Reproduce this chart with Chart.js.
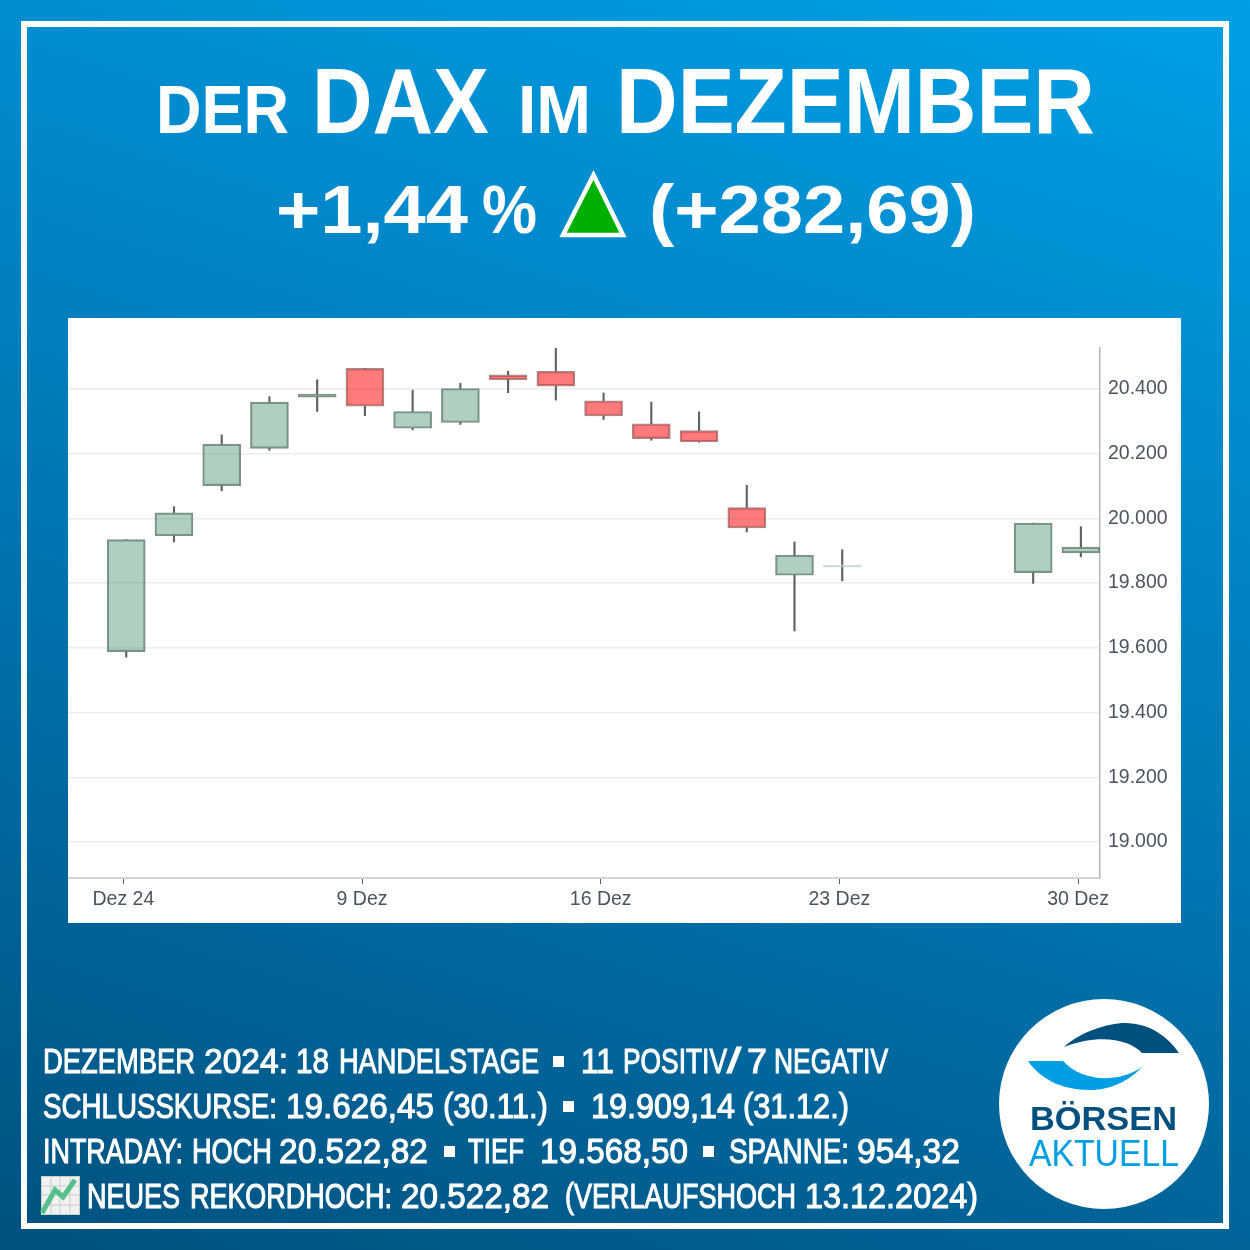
<!DOCTYPE html>
<html lang="de">
<head>
<meta charset="utf-8">
<title>Der DAX im Dezember</title>
<script src="https://cdn.jsdelivr.net/npm/chart.js@4"></script>
<style>
  html, body { margin: 0; padding: 0; }
  body { width: 1250px; height: 1250px; position: relative; overflow: hidden;
         background: linear-gradient(197deg, #00a0e6 0%, #0082c4 38%, #00527f 100%); }
  #frame { position: absolute; left: 21px; top: 21px; width: 1196px; height: 1196px; border: 6px solid #fff; }
  #paper { position: absolute; left: 68px; top: 318px; width: 1113px; height: 605px; background: #fff; }
  #art { position: absolute; left: 0; top: 0; }
  canvas { display: block; }
  .head { font-family: "Liberation Sans", Arial, sans-serif; font-weight: 700; fill: #fff; }
  .foot { font-family: "Liberation Sans Narrow", "Liberation Sans", Arial, sans-serif; font-size: 35px; fill: #fff; stroke: #fff; stroke-width: 1.1px; }
</style>
</head>
<body>
<div id="frame"></div>
<div id="paper"><canvas id="dax" width="1113" height="605"></canvas></div>

<svg id="art" width="1250" height="1250" xmlns="http://www.w3.org/2000/svg">
  <!-- title -->
  <text class="head" x="156" y="133" font-size="68" textLength="133" lengthAdjust="spacingAndGlyphs">DER</text>
  <text class="head" x="312" y="133" font-size="93" textLength="177" lengthAdjust="spacingAndGlyphs">DAX</text>
  <text class="head" x="518" y="133" font-size="68" textLength="73" lengthAdjust="spacingAndGlyphs">IM</text>
  <text class="head" x="616" y="133" font-size="93" textLength="479" lengthAdjust="spacingAndGlyphs">DEZEMBER</text>

  <text class="head" x="276" y="233" font-size="69" textLength="192" lengthAdjust="spacingAndGlyphs">+1,44</text>
  <text class="head" x="482" y="233" font-size="69" textLength="55" lengthAdjust="spacingAndGlyphs">%</text>
  <polygon points="593.5,175 623,235 563,235" fill="#00b000" stroke="#fff" stroke-width="4.5"/>
  <text class="head" x="649" y="233" font-size="69" textLength="327" lengthAdjust="spacingAndGlyphs">(+282,69)</text>

  <!-- facts -->
  <g class="foot">
    <text x="43" y="1073" textLength="152" lengthAdjust="spacingAndGlyphs">DEZEMBER</text>
    <text x="204" y="1073" textLength="84" lengthAdjust="spacingAndGlyphs">2024:</text>
    <text x="296" y="1073" textLength="33" lengthAdjust="spacingAndGlyphs">18</text>
    <text x="339" y="1073" textLength="200" lengthAdjust="spacingAndGlyphs">HANDELSTAGE</text>
    <text x="581" y="1073" textLength="33" lengthAdjust="spacingAndGlyphs">11</text>
    <text x="623" y="1073" textLength="104" lengthAdjust="spacingAndGlyphs">POSITIV</text>
    <text x="727" y="1073" textLength="14" lengthAdjust="spacingAndGlyphs">/</text>
    <text x="747" y="1073" textLength="20" lengthAdjust="spacingAndGlyphs">7</text>
    <text x="774" y="1073" textLength="114" lengthAdjust="spacingAndGlyphs">NEGATIV</text>

    <text x="43" y="1118" textLength="234" lengthAdjust="spacingAndGlyphs">SCHLUSSKURSE:</text>
    <text x="286" y="1118" textLength="148" lengthAdjust="spacingAndGlyphs">19.626,45</text>
    <text x="443" y="1118" textLength="105" lengthAdjust="spacingAndGlyphs">(30.11.)</text>
    <text x="591" y="1118" textLength="144" lengthAdjust="spacingAndGlyphs">19.909,14</text>
    <text x="743" y="1118" textLength="106" lengthAdjust="spacingAndGlyphs">(31.12.)</text>

    <text x="43" y="1163" textLength="140" lengthAdjust="spacingAndGlyphs">INTRADAY:</text>
    <text x="192" y="1163" textLength="80" lengthAdjust="spacingAndGlyphs">HOCH</text>
    <text x="279" y="1163" textLength="149" lengthAdjust="spacingAndGlyphs">20.522,82</text>
    <text x="468" y="1163" textLength="56" lengthAdjust="spacingAndGlyphs">TIEF</text>
    <text x="540" y="1163" textLength="148" lengthAdjust="spacingAndGlyphs">19.568,50</text>
    <text x="729" y="1163" textLength="120" lengthAdjust="spacingAndGlyphs">SPANNE:</text>
    <text x="857" y="1163" textLength="103" lengthAdjust="spacingAndGlyphs">954,32</text>

    <text x="87" y="1208" textLength="93" lengthAdjust="spacingAndGlyphs">NEUES</text>
    <text x="190" y="1208" textLength="202" lengthAdjust="spacingAndGlyphs">REKORDHOCH:</text>
    <text x="401" y="1208" textLength="148" lengthAdjust="spacingAndGlyphs">20.522,82</text>
    <text x="565" y="1208" textLength="231" lengthAdjust="spacingAndGlyphs">(VERLAUFSHOCH</text>
    <text x="805" y="1208" textLength="173" lengthAdjust="spacingAndGlyphs">13.12.2024)</text>
  </g>
  <rect x="553" y="1056" width="11" height="11" fill="#fff"/>
  <rect x="563" y="1101" width="11" height="11" fill="#fff"/>
  <rect x="444" y="1146" width="11" height="11" fill="#fff"/>
  <rect x="703" y="1146" width="11" height="11" fill="#fff"/>

  <!-- chart emoji -->
  <rect x="41.5" y="1176.5" width="38" height="38" fill="#f0f2f0" stroke="#c9cfcb"/>
  <path d="M41 1186H80M41 1195H80M41 1205H80M51 1176V1215M60 1176V1215M70 1176V1215" stroke="#c8cfcb" stroke-width="1"/>
  <polyline points="42,1213 55,1190 63,1197 75,1180" fill="none" stroke="#55c08a" stroke-width="5"/>

  <!-- logo -->
  <circle cx="1104" cy="1104" r="105" fill="#fff"/>
  <path d="M1064 1047C1080 1032 1108 1023 1125 1023C1150 1023 1168 1037 1179 1053L1142 1053C1130 1040 1100 1033 1064 1047Z" fill="#00507f"/>
  <path d="M1028 1061L1063 1061C1080 1080 1115 1085 1142 1067C1125 1085 1105 1090 1090 1090C1060 1090 1040 1078 1028 1061Z" fill="#009fe3"/>
  <text x="1030" y="1130" font-family="Liberation Sans, Arial, sans-serif" font-weight="700" font-size="34" fill="#00507f" textLength="147" lengthAdjust="spacingAndGlyphs">BÖRSEN</text>
  <text x="1029" y="1166" font-family="Liberation Sans, Arial, sans-serif" font-size="36" fill="#009fe3" textLength="150" lengthAdjust="spacingAndGlyphs">AKTUELL</text>
</svg>

<script>
// Handelstage als fortlaufender Index (Wochenenden fallen weg)
var sessions = [0, 1, 2, 3, 4, 5, 6, 7, 8, 9, 10, 11, 12, 13, 14, 15, 19, 20];
var opens  = [19588, 19946, 20101, 20216, 20374, 20463, 20278, 20296, 20443, 20454, 20363, 20292, 20271, 20033, 19824, 19849, 19832, 19893];
var closes = [19934, 20017, 20229, 20359, 20384, 20346, 20330, 20401, 20428, 20408, 20316, 20246, 20236, 19970, 19886, 19849, 19985, 19911];
var highs  = [19934, 20036, 20258, 20376, 20428, 20463, 20396, 20417, 20454, 20525, 20387, 20359, 20329, 20102, 19927, 19903, 19985, 19974];
var lows   = [19571, 19927, 20085, 20210, 20330, 20317, 20273, 20290, 20388, 20365, 20305, 20241, 20235, 19958, 19652, 19807, 19799, 19881];

var xTicks = [0, 5, 10, 15, 20];
var xTickLabels = ["Dez 24", "9 Dez", "16 Dez", "23 Dez", "30 Dez"];
var yTicks = [19000, 19200, 19400, 19600, 19800, 20000, 20200, 20400];
var yTickLabels = ["19.000", "19.200", "19.400", "19.600", "19.800", "20.000", "20.200", "20.400"];

// Kerzen stehen im Original ein Stück rechts vom Tick
var candleShift = 0.06;

function xOf(i) {
  return sessions[i] + candleShift;
}

var bodies = sessions.map((s, i) => ({ x: xOf(i), y: [opens[i], closes[i]] }));
var upperWicks = sessions.map((s, i) => ({ x: xOf(i), y: [Math.max(opens[i], closes[i]), highs[i]] }));
var lowerWicks = sessions.map((s, i) => ({ x: xOf(i), y: [lows[i], Math.min(opens[i], closes[i])] }));

var wickStyle = {
  backgroundColor: "#5f6562",
  borderWidth: 0,
  barThickness: 1.5,
  grouped: false,
};

var myChart = new Chart(document.getElementById("dax").getContext("2d"), {
  type: "bar",
  data: {
    datasets: [
      Object.assign({ label: "Docht oben", data: upperWicks, order: 2 }, wickStyle),
      Object.assign({ label: "Docht unten", data: lowerWicks, order: 2 }, wickStyle),
      {
        label: "DAX",
        data: bodies,
        order: 1,
        grouped: false,
        barThickness: 38,
        minBarLength: 2,
        borderWidth: 1.5,
        borderSkipped: false,
        backgroundColor: ctx => (opens[ctx.dataIndex] > closes[ctx.dataIndex] ? "rgba(255, 0, 0, 0.52)" : "rgba(100, 160, 130, 0.5)"),
        borderColor: ctx => {
          var i = ctx.dataIndex;
          if (opens[i] === closes[i]) return "#d3e5db";
          return opens[i] > closes[i] ? "rgba(125, 75, 75, 0.65)" : "rgba(85, 110, 95, 0.75)";
        },
      },
    ],
  },
  options: {
    responsive: false,
    animation: false,
    layout: { padding: { top: 30, left: 0, right: 0, bottom: 0 } },
    plugins: { legend: { display: false }, tooltip: { enabled: false } },
    scales: {
      x: {
        type: "linear",
        offset: false,
        min: -1.16,
        max: 20.46,
        afterBuildTicks: scale => { scale.ticks = xTicks.map(v => ({ value: v })); },
        afterFit: scale => { scale.height = 45; },
        border: { color: "#d4d4d4", width: 2 },
        grid: { offset: false, drawOnChartArea: false, drawTicks: true, tickLength: 6, tickColor: "#555b60", tickWidth: 1 },
        ticks: {
          autoSkip: false,
          maxRotation: 0,
          padding: 4,
          color: "#4a5560",
          font: { family: "Liberation Sans", size: 19.5 },
          callback: value => xTickLabels[xTicks.indexOf(value)],
        },
      },
      y: {
        position: "right",
        min: 18889,
        max: 20526,
        afterBuildTicks: scale => { scale.ticks = yTicks.map(v => ({ value: v })); },
        afterFit: scale => { scale.width = 81; },
        border: { color: "#b8b8b8", width: 1.5 },
        grid: { color: "#ededed", lineWidth: 1.5, drawTicks: false },
        ticks: {
          padding: 8,
          color: "#4a5560",
          font: { family: "Liberation Sans", size: 19.5 },
          callback: value => yTickLabels[yTicks.indexOf(value)],
        },
      },
    },
  },
});
</script>
</body>
</html>
